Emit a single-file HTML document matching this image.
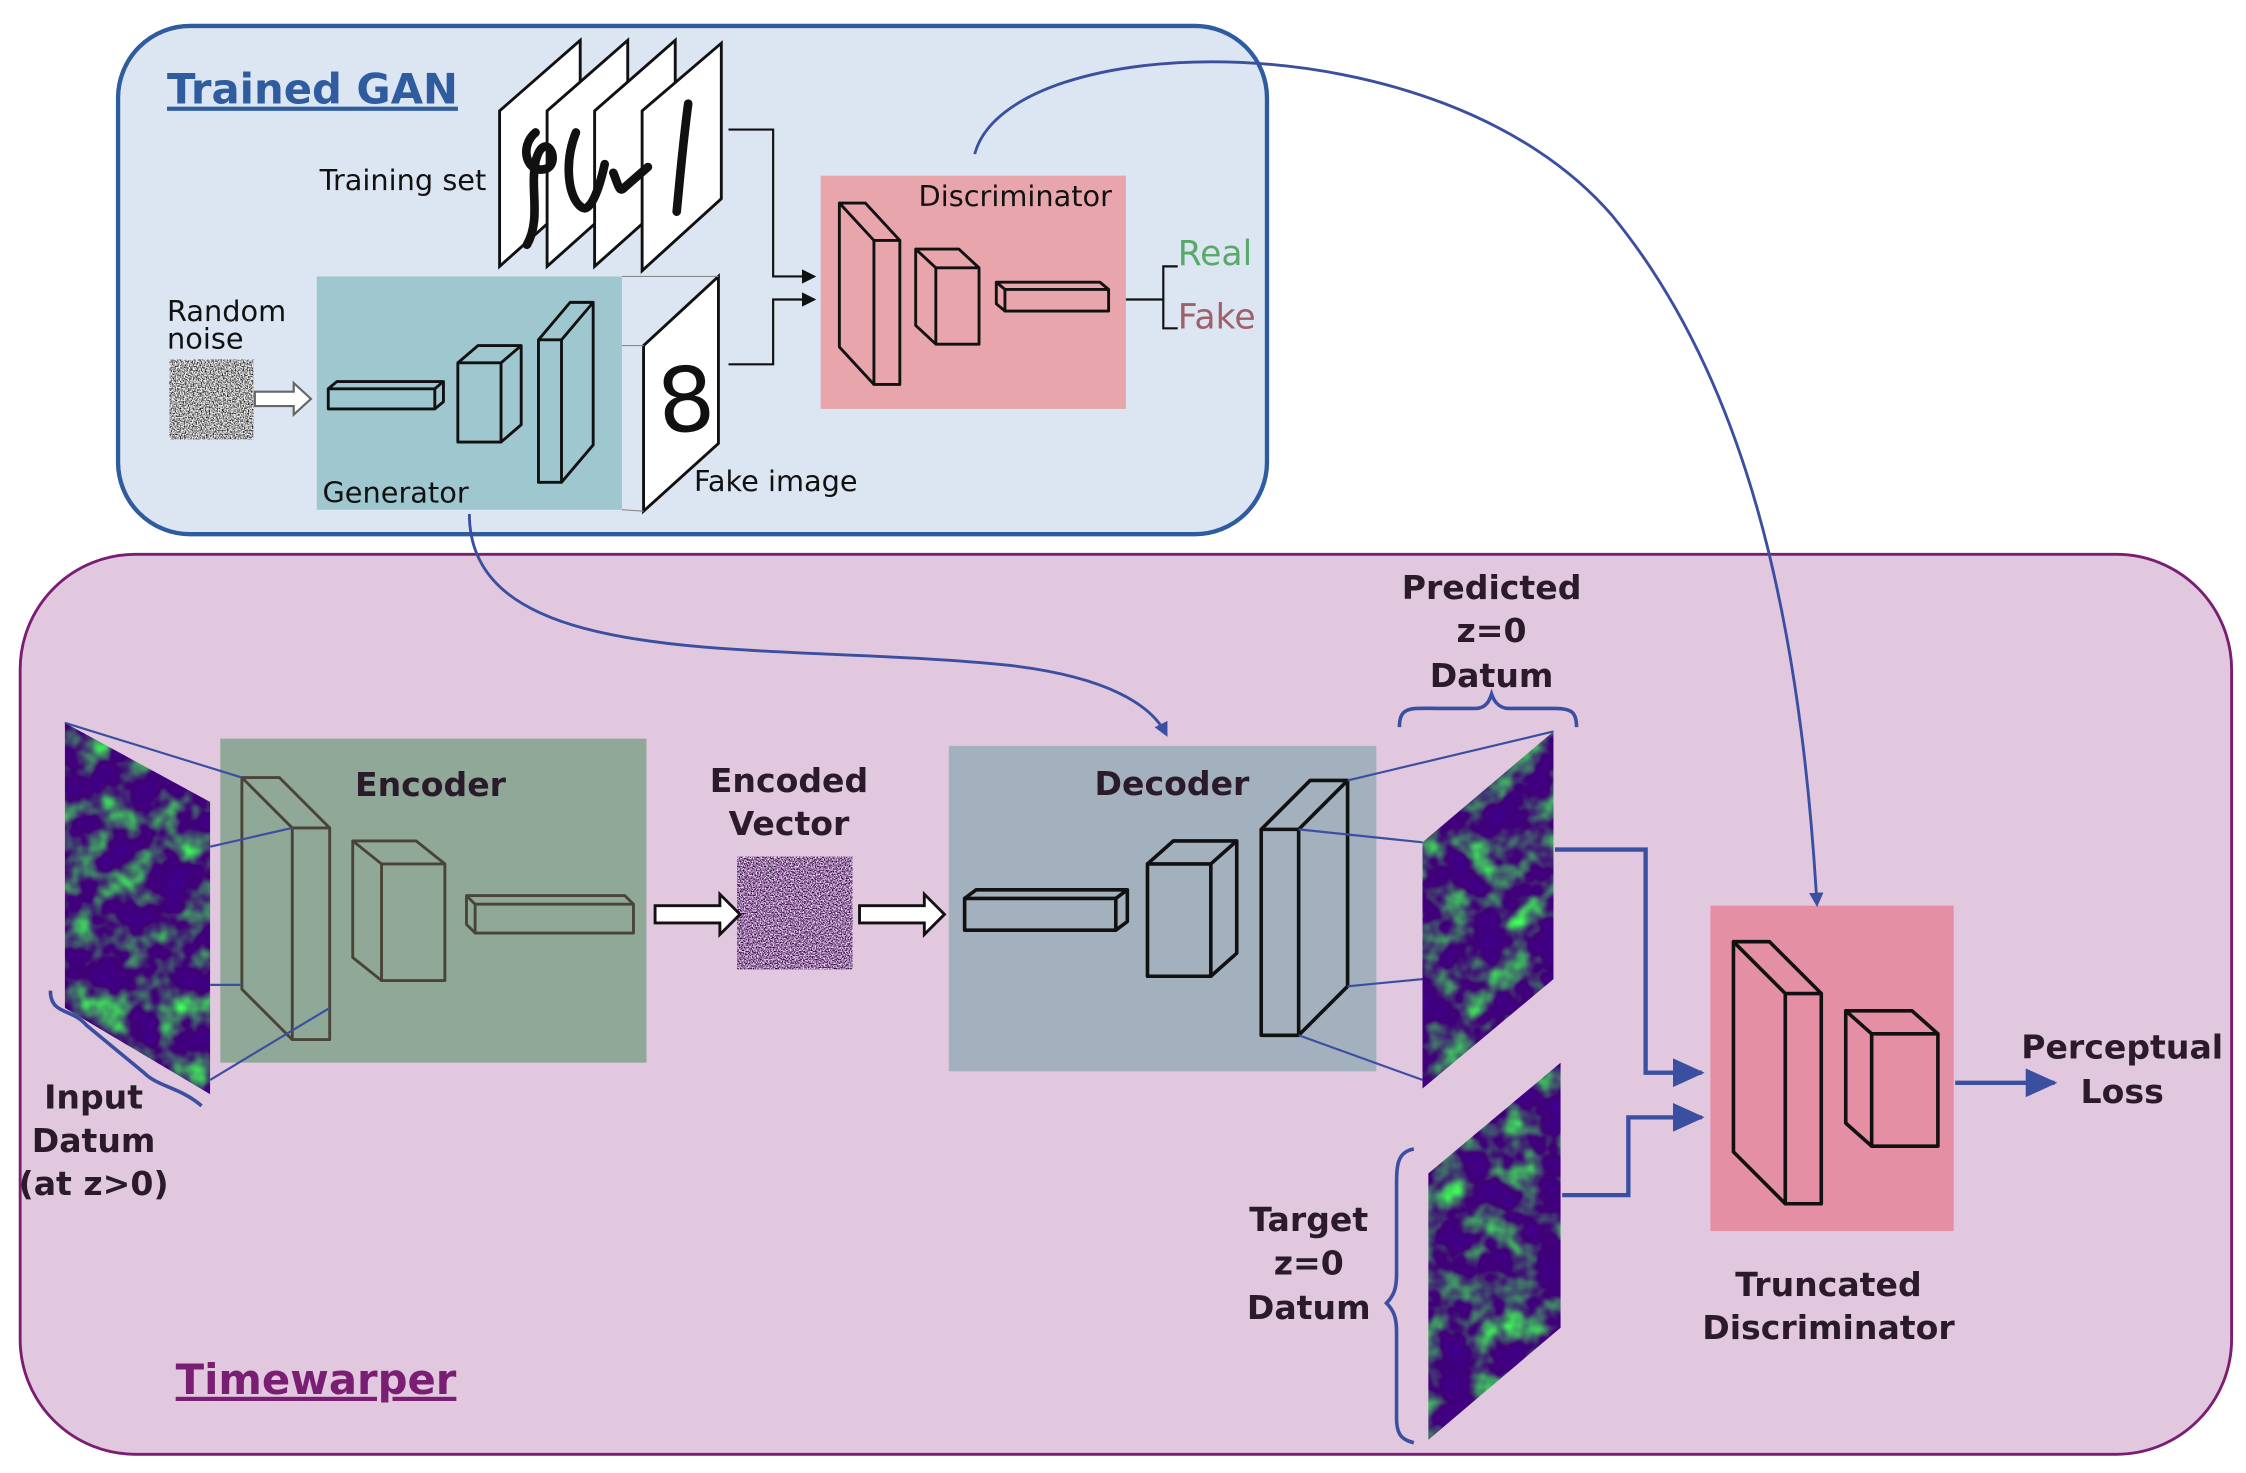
<!DOCTYPE html>
<html><head><meta charset="utf-8"><style>html,body{margin:0;padding:0;background:#fff}svg{display:block}text{font-family:"DejaVu Sans","Liberation Sans",sans-serif}</style></head>
<body>
<svg width="2246" height="1473" viewBox="0 0 1560 1023" preserveAspectRatio="none" xmlns="http://www.w3.org/2000/svg">
<defs>
<filter id="nz" x="0" y="0" width="100%" height="100%" color-interpolation-filters="sRGB"><feTurbulence type="fractalNoise" baseFrequency="1.1" numOctaves="2" seed="3"/><feColorMatrix type="matrix" values="2.5 0 0 0 -0.6  2.5 0 0 0 -0.6  2.5 0 0 0 -0.6  0 0 0 0 1"/></filter>
<filter id="nzp" x="0" y="0" width="100%" height="100%" color-interpolation-filters="sRGB"><feTurbulence type="fractalNoise" baseFrequency="1.1" numOctaves="2" seed="7"/><feColorMatrix type="matrix" values="2.4 0 0 0 -0.6  2.2 0 0 0 -0.65  2.4 0 0 0 -0.55  0 0 0 0 1"/></filter>
<filter id="hm" x="0" y="0" width="100%" height="100%" color-interpolation-filters="sRGB"><feTurbulence type="fractalNoise" baseFrequency="0.045" numOctaves="3" seed="5"/><feColorMatrix type="matrix" values="0 0 0 0 0.25  2.4 0 0 0 -1.05  -0.3 0 0 0 0.6  0 0 0 0 1"/></filter>
<marker id="ar" markerWidth="10" markerHeight="10" refX="8" refY="5" orient="auto" markerUnits="userSpaceOnUse"><path d="M0,0 L10,5 L0,10 z" fill="#3b4fa0"/></marker>
<marker id="arb" markerWidth="10" markerHeight="10" refX="8" refY="5" orient="auto" markerUnits="userSpaceOnUse"><path d="M0,0 L10,5 L0,10 z" fill="#111"/></marker>
<marker id="arL" markerWidth="22" markerHeight="20" refX="20" refY="10" orient="auto" markerUnits="userSpaceOnUse"><path d="M0,0 L22,10 L0,20 z" fill="#3b4fa0"/></marker>
<clipPath id="c1"><polygon points="45,502 146,557 146,760 45,700"/></clipPath>
<clipPath id="c2"><polygon points="988,585 1079,508 1079,680 988,756"/></clipPath>
<clipPath id="c3"><polygon points="992,815 1084,738 1084,922 992,1000"/></clipPath>
</defs>

<rect x="82" y="18" width="798" height="353" rx="50" fill="#dce6f2" stroke="#2e5c9e" stroke-width="3"/>
<rect x="14" y="385" width="1536" height="625" rx="80" fill="#e2c8df" stroke="#7a1e73" stroke-width="2"/>

<text x="116" y="72" font-size="29" font-weight="bold" fill="#2e5c9e" text-decoration="underline">Trained GAN</text>
<text x="122" y="968" font-size="29" font-weight="bold" fill="#7a1e73" text-decoration="underline">Timewarper</text>

<rect x="220" y="192" width="212" height="162" fill="#9fc7cf"/>
<rect x="570" y="122" width="212" height="162" fill="#e8a5ac"/>
<rect x="153" y="513" width="296" height="225" fill="#8fa898"/>
<rect x="659" y="518" width="297" height="226" fill="#a3b0be"/>
<rect x="1188" y="629" width="169" height="226" fill="#e48fa3"/>

<g fill="none" stroke="#111" stroke-width="2" stroke-linejoin="round">
<rect x="228" y="270" width="74" height="14"/><path d="M228,270 l6,-5 h74 l-6,5 M302,284 l6,-5 v-14"/>
<rect x="318" y="252" width="30" height="55"/><path d="M318,252 l14,-12 h30 l-14,12 M348,307 l14,-12 v-55"/>
<rect x="374" y="236" width="16" height="99"/><path d="M374,236 l22,-26 h16 l-22,26 M390,335 l22,-26 v-99"/>
<rect x="607" y="167" width="18" height="100"/><path d="M607,167 l-24,-26 v100 l24,26 M583,141 h18 l24,26"/>
<rect x="650" y="186" width="30" height="53"/><path d="M650,186 l-14,-13 v53 l14,13 M636,173 h30 l14,13"/>
<rect x="698" y="201" width="72" height="15"/><path d="M698,201 l-6,-5 v15 l6,5 M692,196 h72 l6,5"/>
</g>
<g fill="none" stroke="#4a4438" stroke-width="2" stroke-linejoin="round">
<rect x="203" y="575" width="26" height="147"/><path d="M203,575 l-35,-35 v147 l35,35 M168,540 h26 l35,35"/>
<rect x="265" y="600" width="44" height="81"/><path d="M265,600 l-20,-16 v81 l20,16 M245,584 h44 l20,16"/>
<rect x="330" y="628" width="110" height="20"/><path d="M330,628 l-6,-6 v20 l6,6 M324,622 h110 l6,6"/>
</g>
<g fill="none" stroke="#111" stroke-width="2.5" stroke-linejoin="round">
<rect x="670" y="624" width="105" height="22"/><path d="M670,624 l8,-6 h105 l-8,6 M775,646 l8,-6 v-22"/>
<rect x="797" y="600" width="44" height="78"/><path d="M797,600 l18,-16 h44 l-18,16 M841,678 l18,-16 v-78"/>
<rect x="876" y="576" width="26" height="143"/><path d="M876,576 l34,-34 h26 l-34,34 M902,719 l34,-34 v-143"/>
<rect x="1240" y="690" width="25" height="146"/><path d="M1240,690 l-36,-36 v146 l36,36 M1204,654 h25 l36,36"/>
<rect x="1300" y="718" width="46" height="78"/><path d="M1300,718 l-18,-16 v78 l18,16 M1282,702 h46 l18,16"/>
</g>

<g stroke="#111" stroke-width="2" fill="#fff">
<polygon points="347,77 403,28 403,135 347,185"/>
<polygon points="380,77 436,28 436,135 380,185"/>
<polygon points="413,77 469,28 469,135 413,185"/>
<polygon points="446,77 501,30 501,138 446,188"/>
</g>
<g stroke="#111" stroke-width="6" fill="none" stroke-linecap="round">
<path d="M372,92 c-12,10 -6,30 8,25 c10,-6 -2,-28 -8,-5 c-4,20 4,40 -6,58"/>
<path d="M400,92 c-8,20 -6,45 4,52 c6,4 12,-12 16,-30"/>
<path d="M426,120 c4,10 4,14 8,10 l16,-14"/>
<path d="M478,72 c-4,30 -6,55 -8,75"/>
</g>
<polygon points="447,240 499,192 499,308 447,355" fill="#fff" stroke="#111" stroke-width="2"/>
<path d="M432,192 L499,192 M432,354 L447,355 M432,240 L447,240" stroke="#888" stroke-width="0.8"/>
<text x="456" y="300" font-size="62" font-family="Liberation Serif,serif" fill="#111" transform="rotate(-5 470 270)">8</text>

<rect x="118" y="250" width="58" height="55" filter="url(#nz)"/>
<rect x="512" y="595" width="80" height="78" filter="url(#nzp)"/>

<g clip-path="url(#c1)"><rect x="40" y="500" width="110" height="265" filter="url(#hm)"/></g>
<g clip-path="url(#c2)"><rect x="985" y="505" width="100" height="255" filter="url(#hm)"/></g>
<g clip-path="url(#c3)"><rect x="990" y="735" width="100" height="270" filter="url(#hm)"/></g>

<g stroke="#3b4fa0" stroke-width="1.5" fill="none">
<path d="M45,502 L168,540 M146,588 L203,575 M146,684 L168,684 M146,750 L229,700"/>
<path d="M936,542 L1079,508 M902,576 L988,585 M936,685 L988,680 M902,719 L988,750"/>
</g>

<g stroke="#111" stroke-width="1.5" fill="none">
<path d="M506,90 H537 V192 H565" marker-end="url(#arb)"/>
<path d="M506,253 H537 V208 H565" marker-end="url(#arb)"/>
<path d="M782,208 H808 M818,185 H808 V228 H818"/>
</g>
<path d="M177,272 H204 V266 L216,277 L204,288 V282 H177 Z" fill="#fff" stroke="#666" stroke-width="1.5"/>
<path d="M455,629 H500 V621 L514,635 L500,649 V641 H455 Z" fill="#fff" stroke="#111" stroke-width="2"/>
<path d="M597,629 H642 V621 L656,635 L642,649 V641 H597 Z" fill="#fff" stroke="#111" stroke-width="2"/>

<g stroke="#3b4fa0" stroke-width="2" fill="none">
<path d="M677,107 C700,20 1000,10 1120,150 C1210,260 1250,420 1262,628" marker-end="url(#ar)"/>
<path d="M326,357 C326,470 540,445 700,462 C770,470 800,490 810,510" marker-end="url(#ar)"/>
</g>
<g stroke="#3b4fa0" stroke-width="3" fill="none">
<path d="M1080,590 H1143 V745 H1182" marker-end="url(#arL)"/>
<path d="M1085,830 H1131 V776 H1182" marker-end="url(#arL)"/>
<path d="M1358,752 H1427" marker-end="url(#arL)"/>
</g>

<g stroke="#3b4fa0" stroke-width="2.5" fill="none">
<path d="M35,688 C35,705 50,700 60,712 L100,745 C110,755 125,755 140,768"/>
<path d="M972,505 C972,490 980,492 1000,492 H1025 C1033,492 1035,485 1036,482 C1037,485 1040,492 1048,492 H1080 C1092,492 1095,495 1095,505"/>
<path d="M982,798 C970,800 970,810 970,825 V885 C970,895 968,900 963,905 C968,910 970,915 970,925 V985 C970,998 975,1000 982,1002"/>
</g>

<g font-size="20" fill="#111">
<text x="222" y="132">Training set</text>
<text x="116" y="223">Random</text>
<text x="116" y="242">noise</text>
<text x="224" y="349">Generator</text>
<text x="482" y="341">Fake image</text>
<text x="638" y="143">Discriminator</text>
</g>
<text x="818" y="184" font-size="24" fill="#5aa86a">Real</text>
<text x="818" y="228" font-size="24" fill="#a0606a">Fake</text>
<g font-size="23" font-weight="bold" fill="#2a1a2a" text-anchor="middle">
<text x="65" y="770">Input</text><text x="65" y="800">Datum</text><text x="65" y="830">(at z&gt;0)</text>
<text x="299" y="553">Encoder</text>
<text x="548" y="550">Encoded</text><text x="548" y="580">Vector</text>
<text x="814" y="552">Decoder</text>
<text x="1036" y="416">Predicted</text><text x="1036" y="446">z=0</text><text x="1036" y="477">Datum</text>
<text x="909" y="855">Target</text><text x="909" y="885">z=0</text><text x="909" y="916">Datum</text>
<text x="1270" y="900">Truncated</text><text x="1270" y="930">Discriminator</text>
<text x="1474" y="735">Perceptual</text><text x="1474" y="766">Loss</text>
</g>
</svg>
</body></html>
